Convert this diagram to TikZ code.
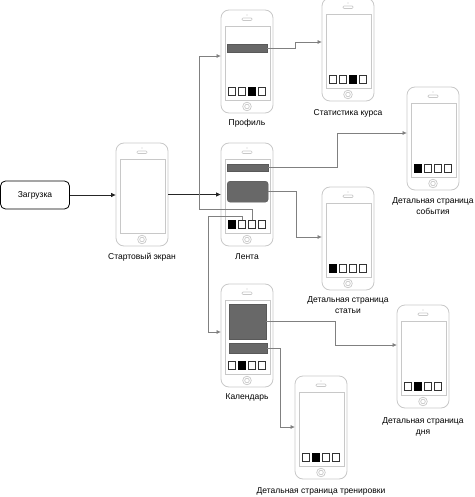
\documentclass[tikz,border=0pt]{standalone}
\usepackage{fontspec}
\setmainfont{Liberation Sans}
\usetikzlibrary{arrows.meta,calc}
\definecolor{phgray}{HTML}{C8C8C8}
\definecolor{bargray}{HTML}{686868}
\definecolor{lngray}{HTML}{808080}
\tikzset{
 phonebox/.style={draw=phgray, line width=0.8pt, rounded corners=8pt, minimum width=52pt, minimum height=103pt, inner sep=0pt},
 phline/.style={draw=phgray, line width=0.7pt},
 tabbox/.style={draw=black!80, line width=0.6pt, minimum size=7.5pt, inner sep=0pt},
 barbox/.style={fill=bargray, draw=black!65, line width=0.4pt, inner sep=0pt, anchor=north west},
 lbl/.style={font=\fontsize{8.5}{11}\selectfont, align=center, inner sep=0pt},
 conn/.style={draw=lngray, line width=0.7pt, -{Triangle[length=4pt,width=3.5pt]}},
 mainconn/.style={draw=black!85, line width=0.8pt, -{Triangle[length=4.5pt,width=4pt]}},
}
\newcommand\phonepic[4]{%
 \begin{scope}[shift={(#2,#3)}]
 \node[phonebox] (#1) at (26,51.5) {};
 \draw[phline] (4,16) rectangle (49,90);
 \draw[phline, rounded corners=1pt] (21,8) rectangle (31,10.5);
 \fill[phgray] (26,5) circle (0.7);
 \draw[phline] (26,96.5) circle (4.3);
 \draw[phline] (26,96.5) circle (2.3);
 \ifnum#4>0
 \foreach \i in {1,2,3,4} {\node[tabbox] (#1-t\i) at (1+10*\i,81.5) {};}
 \fill (#1-t#4.south west) rectangle (#1-t#4.north east);
 \fi
 \end{scope}}
\begin{document}
\begin{tikzpicture}[x=1pt,y=-1pt]
\useasboundingbox (0,0) rectangle (474,497);
% phones
\phonepic{start}{116}{143}{0}
\phonepic{profile}{221}{10}{3}
\phonepic{lenta}{221}{143}{1}
\phonepic{calendar}{221}{284}{2}
\phonepic{stats}{322}{-2}{3}
\phonepic{event}{407}{87}{1}
\phonepic{article}{322}{187}{1}
\phonepic{day}{397}{305}{2}
\phonepic{training}{295}{376}{2}
% bars
\node[barbox, minimum width=40pt, minimum height=8pt] (profile-bar) at (227,44) {};
\node[barbox, minimum width=41pt, minimum height=7pt] (lenta-bar) at (227,164) {};
\node[barbox, minimum width=41pt, minimum height=21pt, rounded corners=3pt] (lenta-card) at (227,181) {};
\node[barbox, minimum width=37pt, minimum height=35pt] (cal-sq) at (229,304) {};
\node[barbox, minimum width=38pt, minimum height=10pt] (cal-bar) at (229,343) {};
% load box
\node[draw, line width=0.8pt, rounded corners=5pt, minimum width=69pt, minimum height=28pt, inner sep=0pt, font=\fontsize{8.5}{11}\selectfont] (load) at (35,195) {Загрузка};
% labels
\node[lbl] (start-l) at (142,257) {Стартовый экран};
\node[lbl] (profile-l) at (247,123) {Профиль};
\node[lbl] (stats-l) at (348,113) {Статистика курса};
\node[lbl] (lenta-l) at (247,257) {Лента};
\node[lbl] (event-l) at (433,206) {Детальная страница\\события};
\node[lbl] (article-l) at (348,305.5) {Детальная страница\\статьи};
\node[lbl] (calendar-l) at (247,397) {Календарь};
\node[lbl] (day-l) at (423,426.5) {Детальная страница\\дня};
\node[lbl] (training-l) at (321,491) {Детальная страница тренировки};
% turning points
\coordinate (j1) at (199,209);
\coordinate (j1b) at (199,56);
\coordinate (j2) at (208,216);
\coordinate (j2b) at (208,332);
\coordinate (k1) at (295,42);
\coordinate (k2) at (337,133);
\coordinate (k3) at (296,237);
\coordinate (k4) at (335,345);
\coordinate (k5) at (280,427);
% connectors
\draw[mainconn] (load.east) -- (load.east -| start.west);
\draw[mainconn] (start.east) -- (lenta.west);
\draw[conn] (lenta-t3.north) |- (j1) -- (j1b) -- (j1b -| profile.west);
\draw[conn] (lenta-t2.north) |- (j2) -- (j2b) -- (j2b -| calendar.west);
\draw[conn] (profile-bar.east) -| (k1) -- (k1 -| stats.west);
\draw[conn] (lenta-bar.east) -| (k2) -- (k2 -| event.west);
\draw[conn] (lenta-card.east) -| (k3) -- (k3 -| article.west);
\draw[conn] (cal-sq.east) -| (k4) -- (k4 -| day.west);
\draw[conn] (cal-bar.east) -| (k5) -- (k5 -| training.west);
\end{tikzpicture}
\end{document}
